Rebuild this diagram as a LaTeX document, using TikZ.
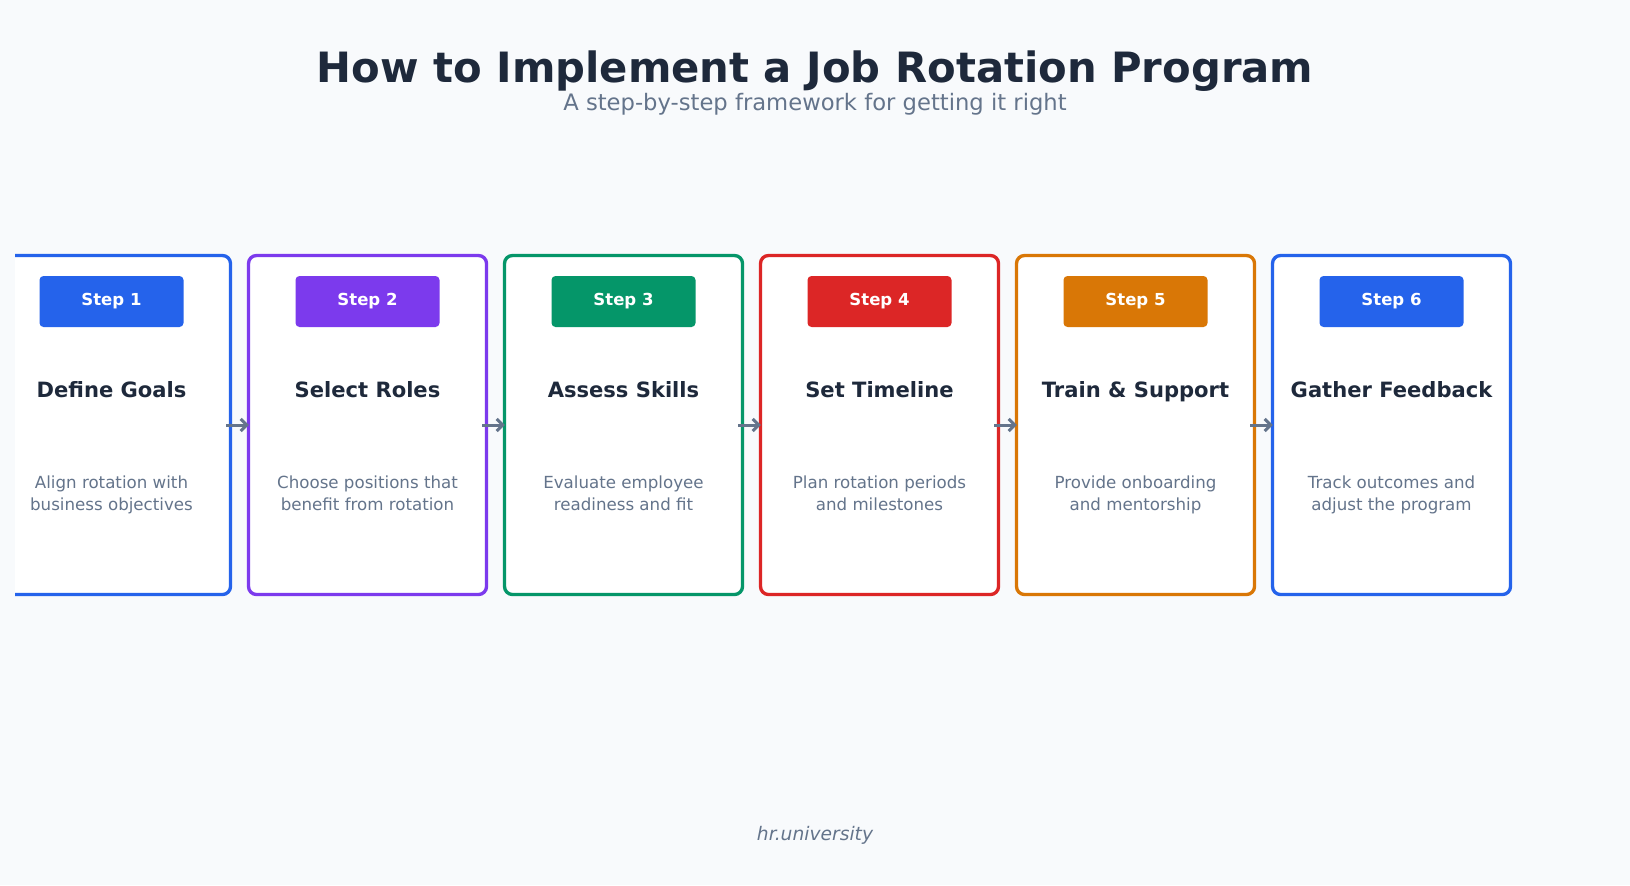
\documentclass[tikz,border=0pt]{standalone}
\usepackage{fontspec}
\setmainfont{DejaVu Sans}
\usetikzlibrary{arrows.meta}
\definecolor{pagebg}{HTML}{F8FAFC}
\definecolor{ink}{HTML}{1E293B}
\definecolor{slate}{HTML}{64748B}
\definecolor{stepblue}{HTML}{2563EB}
\definecolor{steppurple}{HTML}{7C3AED}
\definecolor{stepgreen}{HTML}{059669}
\definecolor{stepred}{HTML}{DC2626}
\definecolor{steporange}{HTML}{D97706}

\begin{document}
\begin{tikzpicture}[
    x=0.75pt, y=-0.75pt,
    card/.style={draw=#1, line width=2.5pt, fill=white, rounded corners=6pt, minimum width=178.5pt, minimum height=254.25pt, inner sep=0pt},
    badge/.style={fill=#1, rounded corners=3pt, minimum width=108pt, minimum height=38.25pt, inner sep=0pt, text=white, font=\fontsize{12.4}{14}\selectfont\bfseries},
    heading/.style={anchor=base, text=ink, font=\fontsize{15.8}{18}\selectfont\bfseries},
    blurb/.style={anchor=base, align=center, text=slate, font=\fontsize{12.5}{16.2}\selectfont},
    flow/.style={-{Straight Barb[length=4.5pt, width=9pt]}, line width=2.25pt, draw=slate, shorten <=-4.5pt, shorten >=-1.5pt}
]
\useasboundingbox[fill=pagebg] (0,0) rectangle (1630,885);

% Title
\node[anchor=base, text=ink, font=\fontsize{31.3}{36}\selectfont\bfseries] (title) at (815,82) {How to Implement a Job Rotation Program};
\node[anchor=base, text=slate, font=\fontsize{17}{20}\selectfont] (subtitle) at (815,110) {A step-by-step framework for getting it right};

% Cards
\begin{scope}
\clip (15,0) rectangle (1630,885);
\node[card=stepblue] (card1) at (111.5,425) {};
\node[badge=stepblue] (badge1) at (111.5,301.5) {Step 1};
\node[heading] (head1) at (111.5,397) {Define Goals};
\node[blurb] (text1) at (111.5,510.5) {Align rotation with\\business objectives};
\end{scope}

\node[card=steppurple] (card2) at (367.5,425) {};
\node[badge=steppurple] (badge2) at (367.5,301.5) {Step 2};
\node[heading] (head2) at (367.5,397) {Select Roles};
\node[blurb] (text2) at (367.5,510.5) {Choose positions that\\benefit from rotation};

\node[card=stepgreen] (card3) at (623.5,425) {};
\node[badge=stepgreen] (badge3) at (623.5,301.5) {Step 3};
\node[heading] (head3) at (623.5,397) {Assess Skills};
\node[blurb] (text3) at (623.5,510.5) {Evaluate employee\\readiness and fit};

\node[card=stepred] (card4) at (879.5,425) {};
\node[badge=stepred] (badge4) at (879.5,301.5) {Step 4};
\node[heading] (head4) at (879.5,397) {Set Timeline};
\node[blurb] (text4) at (879.5,510.5) {Plan rotation periods\\and milestones};

\node[card=steporange] (card5) at (1135.5,425) {};
\node[badge=steporange] (badge5) at (1135.5,301.5) {Step 5};
\node[heading] (head5) at (1135.5,397) {Train \& Support};
\node[blurb] (text5) at (1135.5,510.5) {Provide onboarding\\and mentorship};

\node[card=stepblue] (card6) at (1391.5,425) {};
\node[badge=stepblue] (badge6) at (1391.5,301.5) {Step 6};
\node[heading] (head6) at (1391.5,397) {Gather Feedback};
\node[blurb] (text6) at (1391.5,510.5) {Track outcomes and\\adjust the program};

% Arrows
\draw[flow] (card1) -- (card2);
\draw[flow] (card2) -- (card3);
\draw[flow] (card3) -- (card4);
\draw[flow] (card4) -- (card5);
\draw[flow] (card5) -- (card6);

% Footer
\node[anchor=base, text=slate, font=\fontsize{14}{16}\selectfont\itshape] (footer) at (815,840) {hr.university};

\end{tikzpicture}
\end{document}
